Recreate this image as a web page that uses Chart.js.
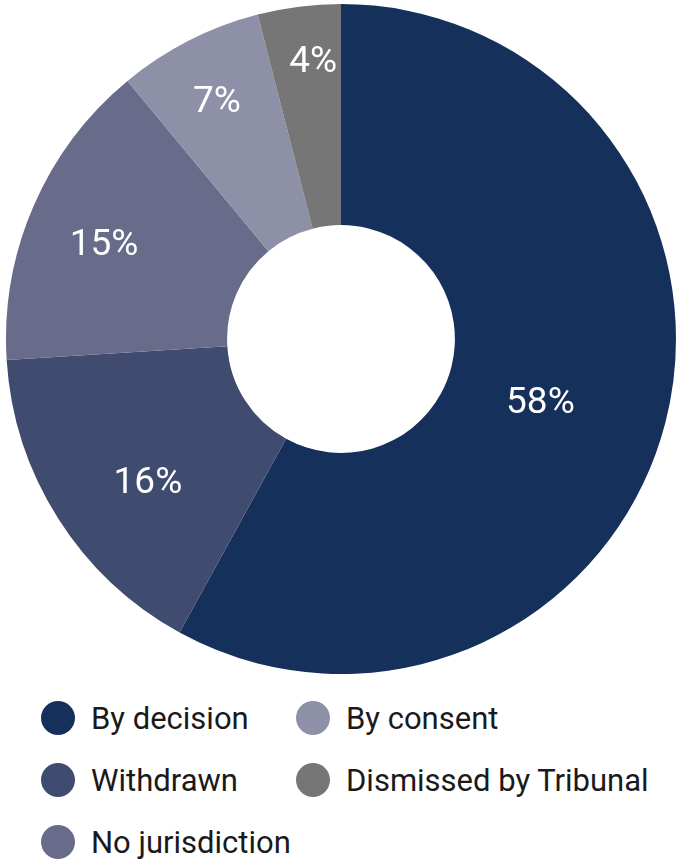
<!DOCTYPE html>
<html>
<head>
<meta charset="utf-8">
<script src="https://cdn.jsdelivr.net/npm/chart.js@4/dist/chart.umd.min.js"></script>
<style>
  html, body { margin: 0; padding: 0; background: #ffffff; width: 680px; height: 866px; overflow: hidden; }
  #wrap { position: absolute; left: 5px; top: 4px; width: 672px; height: 670px; }
  #legend { position: absolute; left: 41px; top: 687px; width: 640px;
    display: grid; grid-template-columns: 255px 360px; grid-auto-flow: column;
    grid-template-rows: 62px 62px 62px; font-family: Roboto, "Liberation Sans", sans-serif; font-size: 31px; color: #1a1a1a; }
  .item { display: flex; align-items: center; height: 62px; }
  .dot { width: 34px; height: 34px; border-radius: 50%; margin-right: 16px; flex: none; }
</style>
</head>
<body>
<div id="wrap"><canvas id="c"></canvas></div>
<div id="legend"></div>
<script>
const categories = ["By decision", "Withdrawn", "No jurisdiction", "By consent", "Dismissed by Tribunal"];
const shares = [58, 16, 15, 7, 4];
const colors = ["#15305a", "#404b70", "#686b8a", "#8e90a8", "#767676"];
const legendOrder = [0, 1, 2, 3, 4];

const labelPlugin = {
  id: 'sliceLabels',
  afterDatasetsDraw(chart, args, opts) {
    const ctx = chart.ctx;
    const meta = chart.getDatasetMeta(0);
    ctx.save();
    ctx.fillStyle = '#ffffff';
    ctx.textAlign = 'center';
    ctx.textBaseline = 'middle';
    ctx.font = '400 37px Roboto, "Liberation Sans", sans-serif';
    meta.data.forEach((arc, i) => {
      const p = arc.getProps(['x','y','startAngle','endAngle','innerRadius','outerRadius'], true);
      const mid = (p.startAngle + p.endAngle) / 2 + opts.dAng[i] * Math.PI / 180;
      const r = p.innerRadius + (p.outerRadius - p.innerRadius) * opts.frac[i];
      ctx.fillText(shares[i] + '%', p.x + Math.cos(mid) * r, p.y + Math.sin(mid) * r + 2);
    });
    ctx.restore();
  }
};

new Chart(document.getElementById('c'), {
  type: 'doughnut',
  data: {
    labels: categories,
    datasets: [{ data: shares, backgroundColor: colors, borderWidth: 0, hoverOffset: 0 }]
  },
  options: {
    responsive: true,
    maintainAspectRatio: false,
    animation: false,
    cutout: '34%',
    layout: { padding: 0 },
    plugins: {
      legend: { display: false },
      tooltip: { enabled: false },
      sliceLabels: { frac: [0.43, 0.57, 0.64, 0.70, 0.75], dAng: [3, -4, -1.5, -0.5, 1.5] }
    }
  },
  plugins: [labelPlugin]
});

const lg = document.getElementById('legend');
legendOrder.forEach(i => {
  const d = document.createElement('div');
  d.className = 'item';
  const dot = document.createElement('span');
  dot.className = 'dot';
  dot.style.background = colors[i];
  const t = document.createElement('span');
  t.textContent = categories[i];
  d.appendChild(dot); d.appendChild(t);
  lg.appendChild(d);
});
</script>
</body>
</html>
